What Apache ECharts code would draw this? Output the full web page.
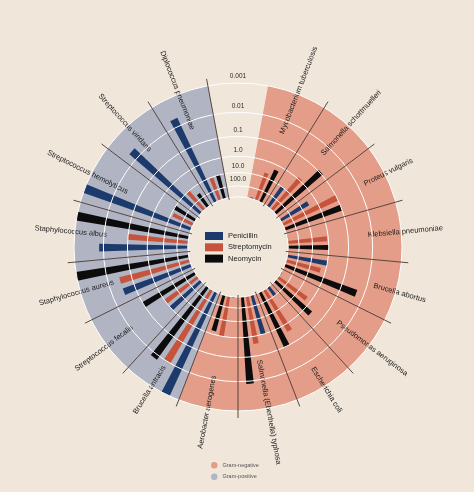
<!DOCTYPE html>
<html>
<head>
<meta charset="utf-8">
<style>
html,body{margin:0;padding:0;background:#f0e6da;}
#chart{width:474px;height:492px;}
</style>
<script src="https://cdn.jsdelivr.net/npm/echarts@6/dist/echarts.min.js"></script>
</head>
<body>
<div id="chart"></div>
<script>
// ---- data (clockwise from the top gap) ----
const bacteria = ['Mycobacterium tuberculosis','Salmonella schottmuelleri','Proteus vulgaris','Klebsiella pneumoniae','Brucella abortus','Pseudomonas aeruginosa','Escherichia coli','Salmonella (Eberthella) typhosa','Aerobacter aerogenes','Brucella antracis','Streptococcus fecalis','Staphylococcus aureus','Staphylococcus albus','Streptococcus hemolyticus','Streptococcus viridans','Diplococcus pneumoniae'];
const gram = ['negative','negative','negative','negative','negative','negative','negative','negative','negative','positive','positive','positive','positive','positive','positive','positive'];
const penicillin   = [800, 10, 3, 850, 1, 850, 100, 1, 870, 0.001, 1, 0.03, 0.007, 0.001, 0.005, 0.005];
const streptomycin = [5, 0.8, 0.1, 1.2, 2, 2, 0.4, 0.4, 1, 0.01, 1, 0.03, 0.1, 14, 10, 11];
const neomycin     = [2, 0.09, 0.1, 1, 0.02, 0.4, 0.1, 0.008, 1.6, 0.007, 0.1, 0.001, 0.001, 10, 40, 10];
const drugNames = ['Penicillin','Streptomycin','Neomycin'];
const gramNames = ['Gram-negative','Gram-positive'];
const tickMIC    = [1000, 100, 10, 1, 0.1, 0.01, 0.001];
const tickLabels = ['', '100.0', '10.0', '1.0', '0.1', '0.01', '0.001'];

// ---- scale & layout ----
const Q = 1.218;                 // radial growth per decade
const R = 164;                   // outer radius (px)
const CENTER = [238, 247];
const FONT = "'Liberation Sans', Arial, Helvetica, sans-serif";
const toR = m => Math.pow(Q, 3 - Math.log10(m));
const BASE = toR(1000);
const TOP = toR(0.001);
const cats = [''].concat(bacteria);
const N = cats.length;
const W = 360 / N;
const START = 90 + W / 2;

const rel = m => toR(m) - BASE;
function labelRot(k) {           // radial text orientation, in radians
  const th = 90 - k * W;
  const deg = Math.cos(th * Math.PI / 180) >= 0 ? th : th + 180;
  return deg * Math.PI / 180;
}
function labelFor(v) {
  let best = 0, bd = Infinity;
  tickMIC.forEach((m, i) => { const d = Math.abs(toR(m) - v); if (d < bd) { bd = d; best = i; } });
  return tickLabels[best];
}

const colors = { Penicillin: '#1d3a6c', Streptomycin: '#c6543c', Neomycin: '#0c0c0c',
                 negative: '#e39d88', positive: '#b1b4c2' };

const series = [];
// background wedges (polar 1)
series.push({
  type: 'bar', coordinateSystem: 'polar', polarIndex: 1, stack: 'bg', silent: true,
  barCategoryGap: '0%', barWidth: '100%', z: 1,
  itemStyle: { color: 'rgba(0,0,0,0)' },
  data: cats.map((c, k) => k === 0 ? null : BASE)
});
['negative', 'positive'].forEach((g, gi) => {
  series.push({
    name: gramNames[gi], type: 'bar', coordinateSystem: 'polar', polarIndex: 1, stack: 'bg',
    barCategoryGap: '0%', barWidth: '100%', z: 1, silent: true,
    itemStyle: { color: colors[g] },
    label: { show: true, position: 'end', distance: 4, align: 'center', verticalAlign: 'middle',
             formatter: '{b}', fontSize: 7.5, color: '#1e1e1e', fontFamily: FONT },
    data: cats.map((c, k) => (k === 0 || gram[k - 1] !== g) ? null :
      { value: TOP - BASE, label: { rotate: labelRot(k) } })
  });
});
// drug bars (polar 0)
[[penicillin, 'p'], [streptomycin, 's'], [neomycin, 'n']].forEach(([arr, st], i) => {
  series.push({
    type: 'bar', coordinateSystem: 'polar', polarIndex: 0, stack: st, silent: true,
    barWidth: '15%', barGap: '75%', z: 2,
    itemStyle: { color: 'rgba(0,0,0,0)' },
    data: cats.map((c, k) => k === 0 ? null : BASE)
  });
  series.push({
    name: drugNames[i], type: 'bar', coordinateSystem: 'polar', polarIndex: 0, stack: st,
    barWidth: '15%', barGap: '75%', z: 2,
    itemStyle: { color: colors[drugNames[i]] },
    data: [null].concat(arr.map(rel))
  });
});

const option = {
  animation: false,
  backgroundColor: '#f0e6da',
  textStyle: { fontFamily: FONT },
  polar: [
    { center: CENTER, radius: [0, R] },
    { center: CENTER, radius: [0, R] },
    { center: CENTER, radius: [48, 171] },
    { center: CENTER, radius: [0, R] }
  ],
  angleAxis: [
    { polarIndex: 0, type: 'category', data: cats, startAngle: START, show: false },
    { polarIndex: 1, type: 'category', data: cats, startAngle: START, show: false },
    { polarIndex: 2, type: 'category', data: cats, startAngle: START, z: 3,
      axisLine: { show: false }, axisLabel: { show: false },
      axisTick: { show: false, interval: (i, v) => v !== bacteria[0] },
      splitLine: { show: true, lineStyle: { color: '#4a3833', width: 0.9 } } },
    { polarIndex: 3, type: 'value', min: 0, max: 360, startAngle: 90, show: false }
  ],
  radiusAxis: [
    { polarIndex: 0, type: 'value', min: 0, max: TOP, show: false },
    { polarIndex: 1, type: 'value', min: 0, max: TOP, show: false },
    { polarIndex: 2, type: 'value', min: 0, max: 1, show: false },
    { polarIndex: 3, type: 'value', min: 0, max: TOP, z: 3,
      axisLine: { show: false },
      axisTick: { show: false, customValues: tickMIC.map(toR) },
      axisLabel: { show: true, customValues: tickMIC.slice(1).map(toR), formatter: v => labelFor(v),
                   margin: 0, align: 'center', verticalAlign: 'bottom', padding: [0, 0, 3, 0],
                   fontSize: 6.5, color: '#2a2a2a', fontFamily: FONT },
      splitLine: { show: true, lineStyle: { color: '#ffffff', width: 1 } } }
  ],
  legend: [
    { data: drugNames, orient: 'vertical', left: 205, top: 232, padding: 0,
      itemWidth: 18, itemHeight: 8, itemGap: 3.3, icon: 'rect', selectedMode: false,
      textStyle: { fontSize: 7.5, color: '#1e1e1e', fontFamily: FONT } },
    { data: gramNames, orient: 'vertical', left: 211, top: 462, padding: 0,
      itemWidth: 6.5, itemHeight: 6.5, itemGap: 5, icon: 'circle', selectedMode: false,
      textStyle: { fontSize: 5.5, color: '#555', fontFamily: FONT } }
  ],
  series: series
};

const chart = echarts.init(document.getElementById('chart'), null, { renderer: 'canvas' });
chart.setOption(option);
</script>
</body>
</html>
